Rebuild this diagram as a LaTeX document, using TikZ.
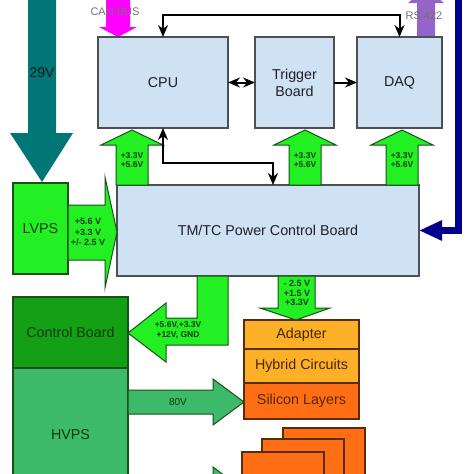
\documentclass[tikz,border=0pt]{standalone}
\usepackage{fontspec}
\setmainfont{Liberation Sans}
\usetikzlibrary{arrows.meta}
\definecolor{boxblue}{RGB}{207,226,243}
\definecolor{boxline}{RGB}{75,80,85}
\definecolor{boxtext}{RGB}{30,30,40}
\definecolor{gbright}{RGB}{35,240,35}
\definecolor{gline}{RGB}{25,80,25}
\definecolor{gtext}{RGB}{10,60,10}
\definecolor{gdark}{RGB}{20,160,20}
\definecolor{gmid}{RGB}{60,185,105}
\definecolor{ylw}{RGB}{251,176,40}
\definecolor{org}{RGB}{255,110,20}
\definecolor{brn}{RGB}{90,45,0}
\definecolor{tealbus}{RGB}{0,118,118}
\definecolor{navybus}{RGB}{0,0,140}
\definecolor{canpink}{RGB}{255,0,255}
\definecolor{rspurple}{RGB}{150,100,200}
\begin{document}
\begin{tikzpicture}[x=1pt,y=-1pt,>={Stealth[length=12pt,width=10pt]},
    font=\fontsize{14.3}{17}\selectfont,
    box/.style={draw=boxline,line width=1.2pt,fill=boxblue,text=boxtext,inner sep=0pt,outer sep=0pt,align=center},
    gbox/.style={draw=gline,line width=1.2pt,inner sep=0pt,outer sep=0pt},
    obox/.style={draw=brn,line width=1.2pt,inner sep=0pt,outer sep=0pt,minimum width=115pt},
    garrow/.style={draw=gline,line width=1pt,fill=gbright,line join=miter},
    small/.style={font=\fontsize{8.5}{9.5}\selectfont\bfseries,text=gtext,align=center},
    link/.style={line width=2pt}]
    \useasboundingbox (0,0) rectangle (474,474);
    \clip (0,0) rectangle (474,474);
    % buses from outside
    \fill[tealbus] (28,-5) -- (56,-5) -- (56,133) -- (73,133) -- (42,182) -- (10,133) -- (28,133) -- cycle;
    \node[text=black!80!tealbus,font=\fontsize{14}{16}\selectfont] (v29) at (42,73) {29V};
    \fill[canpink] (106,-5) -- (130,-5) -- (130,27) -- (137,27) -- (118,37) -- (99,27) -- (106,27) -- cycle;
    \node[text=black!55,font=\fontsize{11}{12}\selectfont] (can) at (115,12) {CAN BUS};
    \fill[rspurple] (417,37) -- (417,3) -- (408,3) -- (426,-12) -- (444,3) -- (435,3) -- (435,37) -- cycle;
    \node[text=black!55,font=\fontsize{11}{12}\selectfont] (rs) at (424,16) {RS 422};
    % boards
    \node[box,minimum width=130pt,minimum height=91pt] (cpu) at (163,82.5) {CPU};
    \node[box,minimum width=79pt,minimum height=91pt] (trig) at (294.5,82.5) {Trigger\\Board};
    \node[box,minimum width=85pt,minimum height=91pt] (daq) at (399.5,82.5) {DAQ};
    \node[box,minimum width=302pt,minimum height=91pt] (tmtc) at (268,230.5) {TM/TC Power Control Board};
    \node[gbox,fill=gbright,text=gtext,minimum width=55pt,minimum height=91pt] (lvps) at (40.5,228.5) {LVPS};
    \node[gbox,fill=gdark,text=gtext,minimum width=115pt,minimum height=71pt] (ctrl) at (70.5,332.5) {Control Board};
    \node[gbox,fill=gmid,text=gtext,minimum width=115pt,minimum height=134pt] (hvps) at (70.5,435) {HVPS};
    \node[obox,fill=ylw,text=brn!80!black,minimum height=29pt] (adap) at (301.5,334.5) {Adapter};
    \node[obox,fill=ylw,text=brn!80!black,minimum height=34pt] (hyb) at (301.5,366) {Hybrid Circuits};
    \node[obox,fill=org,text=brn!90!black,minimum height=36pt] (sil) at (301.5,401) {Silicon Layers};
    \foreach \x/\y in {283/428,262/439,242/452}
        \draw[draw=brn,line width=1.2pt,fill=org] (\x,\y) rectangle (\x+82,\y+60);
    % power arrows
    \foreach \c/\n in {132/c,305/t,402/d} {
        \draw[garrow] (\c-16,185) -- (\c-16,145) -- (\c-31,145) -- (\c,130) -- (\c+31,145) -- (\c+16,145) -- (\c+16,185) -- cycle;
        \node[small] (p\n) at (\c,160) {+3.3V\\+5.6V};
    }
    \draw[garrow] (68,205) -- (105,205) -- (105,177) -- (117,232) -- (105,288) -- (105,260) -- (68,260) -- cycle;
    \node[small,font=\fontsize{9}{10.5}\selectfont\bfseries] (plv) at (88,232) {+5.6 V\\+3.3 V\\+/- 2.5 V};
    \draw[garrow] (197,276) -- (228,276) -- (228,345) -- (166,345) -- (166,362) -- (128,333) -- (166,303) -- (166,318) -- (197,318) -- cycle;
    \node[small] (pct) at (178,330) {+5.6V,+3.3V\\+12V, GND};
    \draw[garrow] (278,276) -- (315,276) -- (315,308) -- (330,308) -- (296,320) -- (260,308) -- (278,308) -- cycle;
    \node[small,font=\fontsize{9}{9.3}\selectfont\bfseries] (pad) at (297,293) {- 2.5 V\\+1.5 V\\+3.3V};
    \draw[garrow,fill=gmid] (128,390) -- (213,390) -- (213,379) -- (244,402) -- (213,425) -- (213,414) -- (128,414) -- cycle;
    \node[text=gtext,font=\fontsize{10}{11}\selectfont] (p80) at (178,402) {80V};
    \draw[garrow,fill=gmid] (128,478) -- (213,478) -- (213,467) -- (244,490) -- (213,513) -- (213,502) -- (128,502) -- cycle;
    % signal lines
    \draw[link,<->] (cpu.north) -- (cpu.north |- 0,15) -- (daq.north |- 0,15) -- (daq.north);
    \draw[link,<->] (cpu) -- (trig);
    \draw[link,->] (trig) -- (daq);
    \draw[link,<->] (cpu.south) |- (273,163) -- (tmtc.north -| 273,0);
    \draw[navybus,line width=7pt,line join=miter,-{Triangle[length=23pt,width=19pt]}] (458,-5) |- (tmtc.east);
\end{tikzpicture}
\end{document}
